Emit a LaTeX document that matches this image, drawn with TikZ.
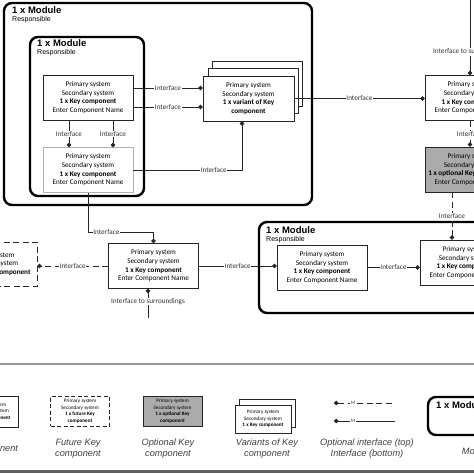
\documentclass[tikz,border=0pt]{standalone}
\usepackage{fontspec}
\setmainfont{Carlito}
\newfontfamily\arialfont{Liberation Sans}
\usetikzlibrary{arrows.meta, positioning}

\begin{document}
\begin{tikzpicture}[x=1pt, y=-1pt,
	comp/.style={draw=black!85, fill=white, line width=0.8pt, minimum width=90pt, minimum height=45pt,
		align=center, inner sep=1pt, font=\fontsize{7.2}{8.7}\selectfont},
	legcomp/.style={comp, minimum width=59pt, minimum height=30pt, font=\fontsize{5.2}{6.6}\selectfont},
	module/.style={draw=black, line width=2.4pt, rounded corners=8pt},
	modhead/.style={anchor=north west, inner sep=0pt, font=\arialfont\bfseries\fontsize{9.5}{10}\selectfont},
	modresp/.style={anchor=north west, inner sep=0pt, yshift=-2.5pt, font=\arialfont\fontsize{7}{8}\selectfont},
	conn/.style={draw=black!85, line width=0.8pt, -{Circle[length=4.4pt]}},
	optline/.style={dash pattern=on 6pt off 3.5pt},
	lab/.style={fill=white, inner sep=0.6pt, text=black!80, font=\fontsize{7.2}{8}\selectfont},
	mlab/.style={fill=white, inner sep=0.5pt, text=black!80, font=\fontsize{5}{5}\selectfont\itshape},
	caption/.style={align=center, text=black!75, font=\arialfont\itshape\fontsize{9.2}{11}\selectfont}]

		\useasboundingbox (0,0) rectangle (474,474);
		\clip (0,0) rectangle (474,474);

		% --- Modules ---
		\draw[module] (4,3) rectangle (312,205);
		\node[modhead] (modOuter) at (12,6.5) {1 x Module};
		\node[modresp] at (modOuter.south west) {Responsible};

		\draw[module] (30,37) rectangle (144,196);
		\node[modhead] (modInner) at (37,39.5) {1 x Module};
		\node[modresp] at (modInner.south west) {Responsible};

		\draw[module] (259,222) rectangle (505,313);
		\node[modhead] (modRight) at (266,226.5) {1 x Module};
		\node[modresp] at (modRight.south west) {Responsible};

		% --- Key components ---
		\node[comp] (keyA) at (88,97.5) {Primary system\\Secondary system\\\textbf{1 x Key component}\\Enter Component Name};
		\node[comp, draw=black!30] (keyB) at (88,170) {Primary system\\Secondary system\\\textbf{1 x Key component}\\Enter Component Name};

		% variant stack
		\node[comp] (varC) at (257.5,83.5) {};
		\node[comp] (varB) at (253,91) {};
		\node[comp, minimum width=91pt] (varA) at (248.5,98.5) {Primary system\\Secondary system\\\textbf{1 x variant of Key}\\\textbf{component}};

		\node[comp] (keyC) at (470,98) {Primary system\\Secondary system\\\textbf{1 x Key component}\\Enter Component Name};
		\node[comp, fill=black!33] (optD) at (470,169.5) {Primary system\\Secondary system\\\textbf{1 x optional Key component}\\Enter Component Name};
		\node[comp] (keyE) at (465,262.5) {Primary system\\Secondary system\\\textbf{1 x Key component}\\Enter Component Name};

		\node[comp] (keyF) at (153.5,266) {Primary system\\Secondary system\\\textbf{1 x Key component}\\Enter Component Name};
		\node[comp, optline, minimum height=44pt] (futG) at (-8,264) {Primary system\\Secondary system\\\textbf{1 x future Key component}};
		\node[comp] (keyH) at (322,267.5) {Primary system\\Secondary system\\\textbf{1 x Key component}\\Enter Component Name};

		% --- Interfaces ---
		\coordinate (aTop) at ([yshift=9.5pt]keyA.east);
		\coordinate (aBot) at ([yshift=-9.5pt]keyA.east);
		\draw[conn] (aTop) -- node[lab]{Interface} (aTop -| varA.west);
		\draw[conn] (aBot) -- node[lab]{Interface} (aBot -| varA.west);

		\coordinate (abL) at ([xshift=-19pt]keyA.south);
		\coordinate (abR) at ([xshift=25pt]keyA.south);
		\draw[conn] (abL) -- node[lab]{Interface} (abL |- keyB.north);
		\draw[conn] (abR) -- node[lab]{Interface} (abR |- keyB.north);

		\coordinate (vIn) at ([xshift=-6.5pt]varA.south);
		\draw[conn] (keyB.east) -| node[lab, pos=0.37]{Interface} (vIn);

		\draw[conn] (varA.east) -- node[lab]{Interface} (varA.east -| keyC.west);

		\coordinate (surrC) at (470,-2);
		\draw[conn] (surrC) -- node[lab, pos=0.7]{Interface to surroundings} (keyC.north);
		\draw[conn, optline] (keyC.south) -- node[lab]{Interface} (optD.north);

		\coordinate (deTop) at ([xshift=-18pt]optD.south);
		\draw[conn, optline] (deTop) -- node[lab]{Interface} (deTop |- keyE.north);

		\coordinate (bfCorner) at (153.5,232);
		\draw[conn] (keyB.south) |- node[lab, pos=0.64]{Interface} (bfCorner) -- (keyF.north);

		\draw[conn, optline] (keyF.west) -- node[lab]{Interface} (keyF.west -| futG.east);
		\coordinate (surrF) at (148,318);
		\draw[conn] (surrF) -- node[lab, pos=0.57]{Interface to surroundings} (surrF |- keyF.south);
		\draw[conn] (keyF.east) -- node[lab]{Interface} (keyF.east -| keyH.west);
		\draw[conn] (keyH.east) -- node[lab]{Interface} (keyH.east -| keyE.west);

		% --- Legend ---
		\draw[black!40, line width=1.2pt] (0,364) -- (474,364);
		\draw[black!62, line width=3.5pt] (0,471.5) -- (474,471.5);

		\node[legcomp, minimum width=56pt, minimum height=31pt] (legKey) at (-10,411.5) {Primary system\\Secondary system\\\textbf{1 x Key component}};
		\node[caption] at (-14,449) {Key component};

		\node[legcomp, dash pattern=on 4pt off 2.5pt] (legFut) at (80,411) {Primary system\\Secondary system\\\textbf{1 x future Key}\\\textbf{component}};
		\node[caption] at (78,448.5) {Future Key\\component};

		\node[legcomp, fill=black!33] (legOpt) at (172.5,411) {Primary system\\Secondary system\\\textbf{1 x optional Key}\\\textbf{component}};
		\node[caption] at (168,448.5) {Optional Key\\component};

		\node[legcomp, minimum width=56pt, minimum height=28pt] (legVarB) at (267,413) {};
		\node[legcomp, minimum width=56pt, minimum height=28pt] (legVarA) at (263,419) {Primary system\\Secondary system\\\textbf{1 x Key component}};
		\node[caption] at (267,448.5) {Variants of Key\\component};

		\coordinate (legOptL) at (334,403);
		\coordinate (legOptR) at (395,403);
		\coordinate (legIfL) at (334,421);
		\coordinate (legIfR) at (395,421);
		\draw[conn, optline, {Circle[length=4.4pt]}-] (legOptL) -- node[mlab, pos=0.31]{M} (legOptR);
		\draw[conn, {Circle[length=4.4pt]}-] (legIfL) -- node[mlab, pos=0.31]{M} (legIfR);
		\node[caption] at (367,448.5) {Optional interface (top)\\Interface (bottom)};

		\draw[module] (428,397) rectangle (505,435);
		\node[modhead] at (436,401.5) {1 x Module};
		\node[caption] at (477,451) {Module};

	\end{tikzpicture}
\end{document}
